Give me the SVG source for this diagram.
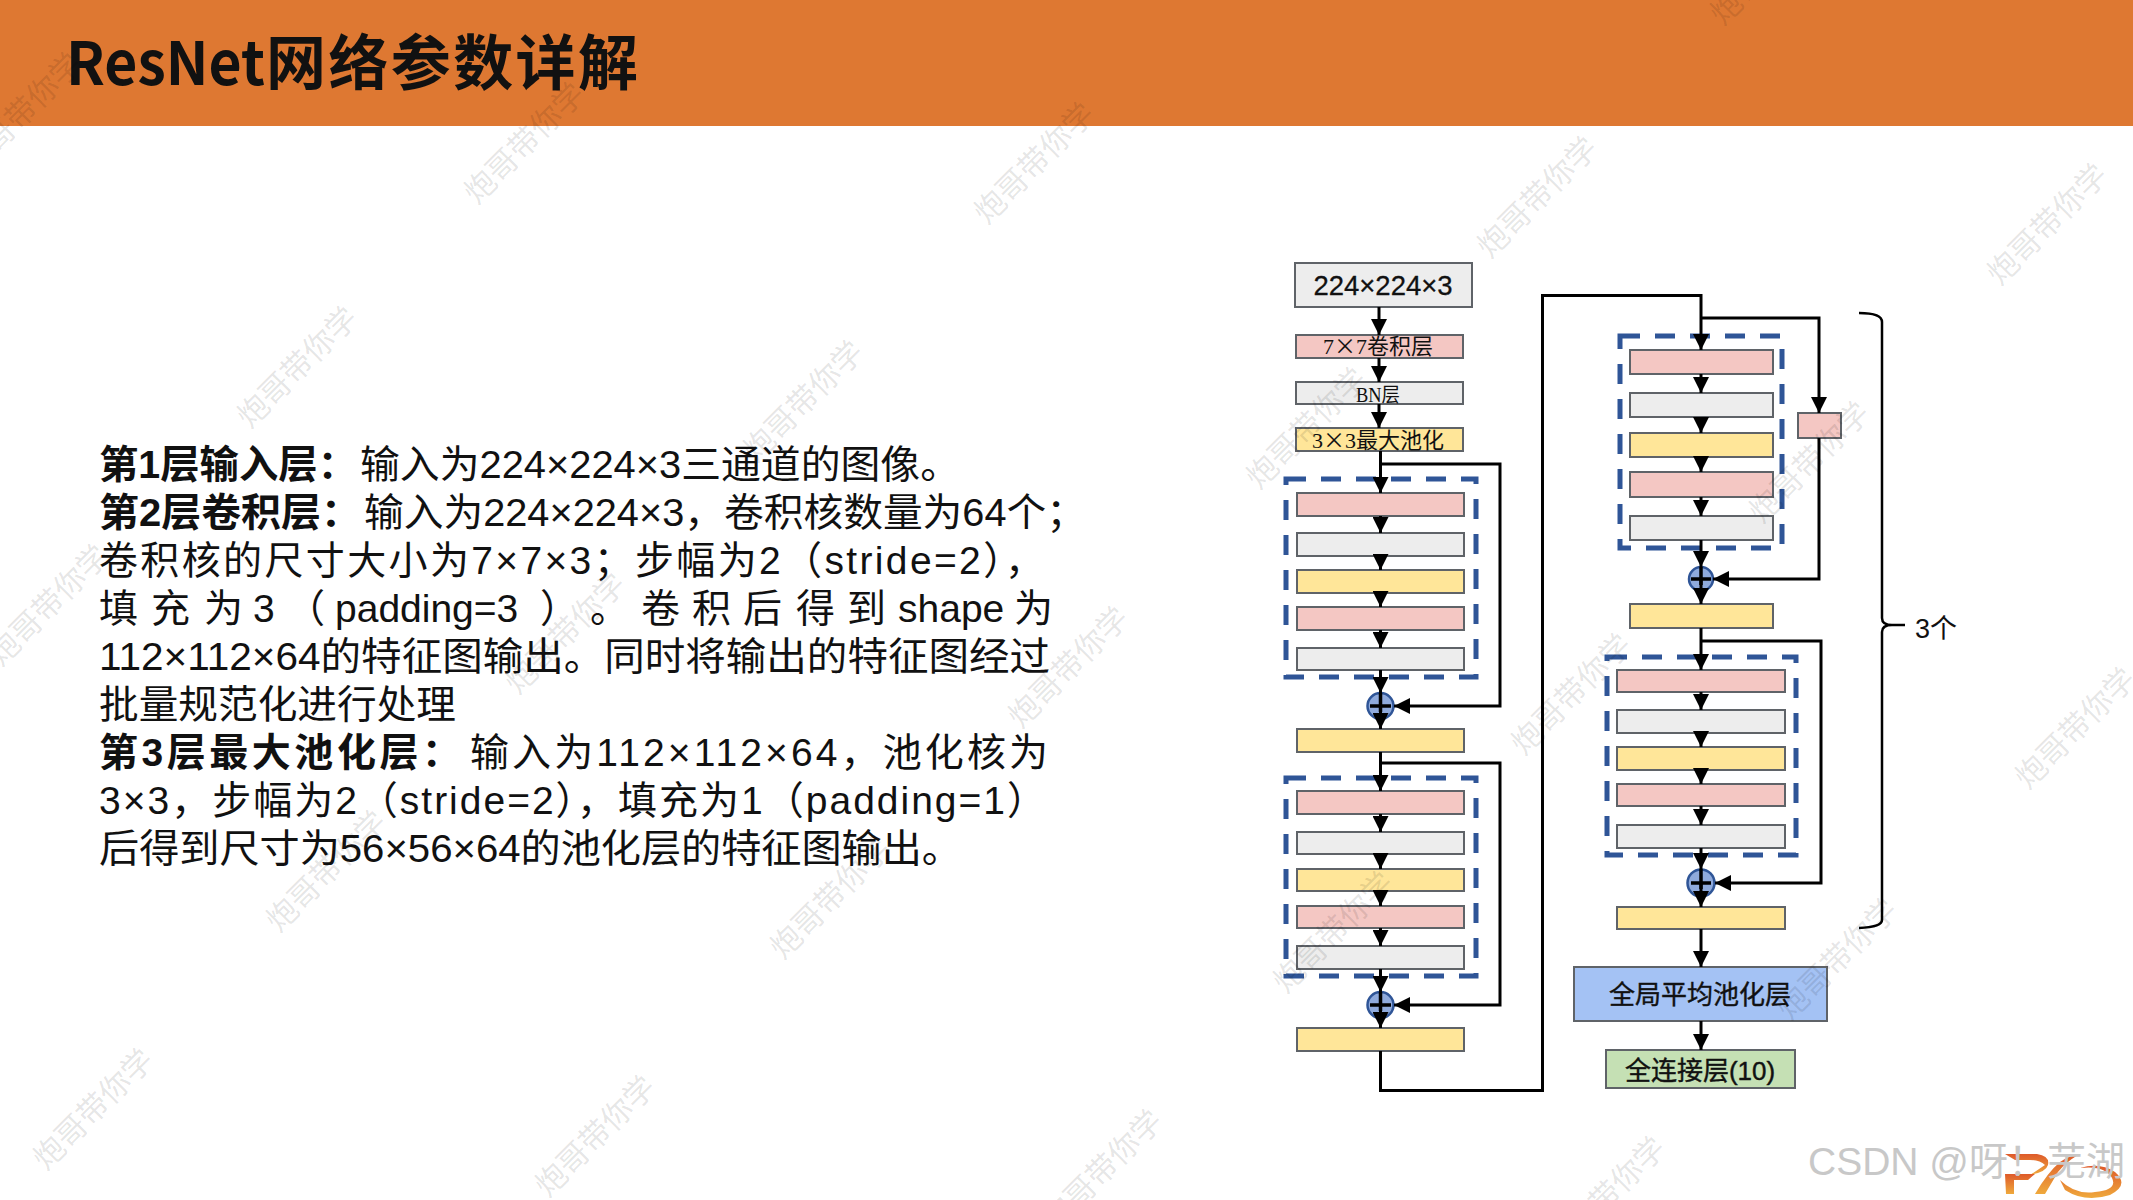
<svg xmlns="http://www.w3.org/2000/svg" width="2133" height="1200" viewBox="0 0 2133 1200">
<style>
text{font-family:"Liberation Sans","Noto Sans CJK SC",sans-serif;fill:#111}
.body{font-size:39px}
.b{font-weight:700}
.cjk{font-family:"Noto Sans CJK SC",sans-serif}
.serif{font-family:"Liberation Serif","Noto Sans CJK SC",serif;font-size:22px;text-anchor:middle}
.big{font-size:26px;text-anchor:middle;stroke:#111;stroke-width:.4}
.wm{font-family:"Noto Sans CJK SC",sans-serif;font-size:31px;fill:#000;fill-opacity:.11;text-anchor:middle}
.pink{fill:#F4C7C3}.gray{fill:#EDEDED}.yellow{fill:#FFE699}
rect.n{stroke:#5f6368;stroke-width:2}
.dash{fill:none;stroke:#2F5597;stroke-width:5;stroke-dasharray:20 15}
.c{fill:none;stroke:#000;stroke-width:3}
.a{marker-end:url(#arrow)}
.sum{fill:#8FAADC;stroke:#2F5597;stroke-width:2.5}
.plus{fill:none;stroke:#000;stroke-width:3.5}
</style>
<defs>
<marker id="arrow" markerUnits="userSpaceOnUse" markerWidth="16" markerHeight="16" refX="16" refY="8" orient="auto"><path d="M0 0L16 8L0 16Z" fill="#000"/></marker>
<linearGradient id="lg1" x1="0" y1="0" x2="0" y2="1"><stop offset="0" stop-color="#DE5A2A"/><stop offset="1" stop-color="#EFA93C"/></linearGradient>
</defs>
<rect width="2133" height="1200" fill="#fff"/>
<rect id="header" width="2133" height="126" fill="#DE7832"/>
<text x="66" y="85" class="b" font-size="60" style="font-family:'Noto Sans CJK SC',sans-serif" textLength="199" lengthAdjust="spacingAndGlyphs">ResNet</text>
<text x="266" y="85" class="b" font-size="60" style="font-family:'Noto Sans CJK SC',sans-serif" textLength="372">网络参数详解</text>

<g id="description" class="body">
<text x="99" y="478" class="b" textLength="258" lengthAdjust="spacingAndGlyphs">第1层输入层：</text>
<text x="360" y="478" textLength="600" lengthAdjust="spacingAndGlyphs">输入为224×224×3三通道的图像。</text>
<text x="99" y="526" class="b" textLength="262" lengthAdjust="spacingAndGlyphs">第2层卷积层：</text>
<text x="364" y="526" textLength="722" lengthAdjust="spacingAndGlyphs">输入为224×224×3，卷积核数量为64个；</text>
<text x="99" y="574" textLength="945" lengthAdjust="spacing">卷积核的尺寸大小为7×7×3；步幅为2（stride=2），</text>
<text y="622"><tspan x="99">填</tspan><tspan x="151">充</tspan><tspan x="204">为</tspan><tspan x="253">3</tspan><tspan x="286">（</tspan><tspan x="335">padding=3</tspan><tspan x="540">）</tspan><tspan x="590">。</tspan><tspan x="641">卷</tspan><tspan x="692">积</tspan><tspan x="743">后</tspan><tspan x="796">得</tspan><tspan x="847">到</tspan><tspan x="898">shape</tspan><tspan x="1014">为</tspan></text>
<text x="99" y="670" textLength="951" lengthAdjust="spacingAndGlyphs">112×112×64的特征图输出。同时将输出的特征图经过</text>
<text x="99" y="718" textLength="357" lengthAdjust="spacingAndGlyphs">批量规范化进行处理</text>
<text x="99" y="766" class="b" textLength="362" lengthAdjust="spacing">第3层最大池化层：</text>
<text x="470" y="766" textLength="578" lengthAdjust="spacing">输入为112×112×64，池化核为</text>
<text x="99" y="814" textLength="947" lengthAdjust="spacing">3×3，步幅为2（stride=2），填充为1（padding=1）</text>
<text x="99" y="862" textLength="863" lengthAdjust="spacingAndGlyphs">后得到尺寸为56×56×64的池化层的特征图输出。</text>
</g>

<g id="stem">
<g id="input"><rect class="n gray" x="1295" y="263" width="177" height="44"/><text x="1383" y="295" font-size="27.5" text-anchor="middle" style="stroke:#111;stroke-width:.3">224×224×3</text></g>
<g id="conv7"><rect class="n pink" x="1296" y="335" width="167" height="23"/><text class="serif" x="1378" y="354">7<tspan class="cjk">×</tspan>7卷积层</text></g>
<g id="bn"><rect class="n gray" x="1296" y="382" width="167" height="22"/><text class="serif" x="1378" y="402" style="font-size:20px" textLength="44" lengthAdjust="spacingAndGlyphs">BN层</text></g>
<g id="pool"><rect class="n yellow" x="1296" y="428" width="167" height="23"/><text class="serif" x="1378" y="448">3<tspan class="cjk">×</tspan>3最大池化</text></g>
</g>

<g id="block1">
<rect class="dash" x="1286" y="479" width="190" height="198"/>
<rect class="n pink" x="1297" y="493" width="167" height="23"/>
<rect class="n gray" x="1297" y="533" width="167" height="23"/>
<rect class="n yellow" x="1297" y="570" width="167" height="23"/>
<rect class="n pink" x="1297" y="607" width="167" height="23"/>
<rect class="n gray" x="1297" y="648" width="167" height="22"/>
</g>
<g id="sum1"><circle class="sum" cx="1380.5" cy="706" r="13"/></g>
<g id="pool1"><rect class="n yellow" x="1297" y="729" width="167" height="23"/></g>

<g id="block2">
<rect class="dash" x="1286" y="778" width="190" height="198"/>
<rect class="n pink" x="1297" y="791" width="167" height="23"/>
<rect class="n gray" x="1297" y="832" width="167" height="22"/>
<rect class="n yellow" x="1297" y="869" width="167" height="22"/>
<rect class="n pink" x="1297" y="906" width="167" height="22"/>
<rect class="n gray" x="1297" y="946" width="167" height="23"/>
</g>
<g id="sum2"><circle class="sum" cx="1380.5" cy="1005" r="13"/></g>
<g id="pool2"><rect class="n yellow" x="1297" y="1028" width="167" height="23"/></g>

<g id="block3">
<rect class="dash" x="1620" y="336" width="162" height="212"/>
<rect class="n pink" x="1630" y="350" width="143" height="24"/>
<rect class="n gray" x="1630" y="393" width="143" height="24"/>
<rect class="n yellow" x="1630" y="433" width="143" height="24"/>
<rect class="n pink" x="1630" y="472" width="143" height="25"/>
<rect class="n gray" x="1630" y="516" width="143" height="24"/>
</g>
<g id="shortcut-conv"><rect class="n pink" x="1798" y="413" width="43" height="25"/></g>
<g id="sum3"><circle class="sum" cx="1701" cy="579" r="12"/></g>
<g id="pool3"><rect class="n yellow" x="1630" y="604" width="143" height="24"/></g>

<g id="block4">
<rect class="dash" x="1607" y="657" width="189" height="198"/>
<rect class="n pink" x="1617" y="670" width="168" height="22"/>
<rect class="n gray" x="1617" y="710" width="168" height="23"/>
<rect class="n yellow" x="1617" y="747" width="168" height="23"/>
<rect class="n pink" x="1617" y="784" width="168" height="22"/>
<rect class="n gray" x="1617" y="825" width="168" height="23"/>
</g>
<g id="sum4"><circle class="sum" cx="1701" cy="883" r="13.5"/></g>
<g id="pool4"><rect class="n yellow" x="1617" y="907" width="168" height="22"/></g>
<g id="gap"><rect class="n" fill="#A4C2F4" x="1574" y="967" width="253" height="54"/><text class="big" x="1700" y="1004">全局平均池化层</text></g>
<g id="fc"><rect class="n" fill="#C5E0B4" x="1606" y="1050" width="189" height="38"/><text class="big" x="1700" y="1080">全连接层(10)</text></g>

<g id="connectors">
<path class="c a" d="M1379 307V335"/><path class="c a" d="M1379 358V382"/><path class="c a" d="M1379 404V428"/>
<path class="c a" d="M1380.5 451V493"/>
<path class="c a" d="M1380.5 516V533"/><path class="c a" d="M1380.5 556V570"/><path class="c a" d="M1380.5 593V607"/><path class="c a" d="M1380.5 630V648"/><path class="c a" d="M1380.5 670V693"/>
<path class="c a" d="M1380.5 706V729"/>
<path class="c a" d="M1380.5 464H1500V706H1394"/>
<path class="c a" d="M1380.5 752V791"/>
<path class="c a" d="M1380.5 814V832"/><path class="c a" d="M1380.5 854V869"/><path class="c a" d="M1380.5 891V906"/><path class="c a" d="M1380.5 928V946"/><path class="c a" d="M1380.5 969V992"/>
<path class="c a" d="M1380.5 1005V1028"/>
<path class="c a" d="M1380.5 763H1500V1005H1394"/>
<path class="c a" d="M1380.5 1051V1090.5H1542.5V295.5H1701V350"/>
<path class="c a" d="M1701 318H1819V413"/>
<path class="c a" d="M1819 438V579H1713"/>
<path class="c a" d="M1701 374V393"/><path class="c a" d="M1701 417V433"/><path class="c a" d="M1701 457V472"/><path class="c a" d="M1701 497V516"/><path class="c a" d="M1701 540V567"/>
<path class="c a" d="M1701 579V604"/>
<path class="c a" d="M1701 628V670"/>
<path class="c a" d="M1701 641H1821V883H1715"/>
<path class="c a" d="M1701 692V710"/><path class="c a" d="M1701 733V747"/><path class="c a" d="M1701 770V784"/><path class="c a" d="M1701 806V825"/><path class="c a" d="M1701 848V869"/>
<path class="c a" d="M1701 883V907"/>
<path class="c a" d="M1701 929V967"/><path class="c a" d="M1701 1021V1050"/>
</g>
<g id="plus-signs">
<path class="plus" d="M1370 706H1391M1380.5 693V712"/><path class="plus" d="M1370 1005H1391M1380.5 992V1011"/><path class="plus" d="M1691 579H1711M1701 567V585"/><path class="plus" d="M1691 883H1711M1701 869V889"/>
</g>
<g id="brace">
<path fill="none" stroke="#000" stroke-width="2.5" d="M1859 313Q1882 313 1882 322V618Q1882 625 1892 625H1905M1892 625Q1882 625 1882 632V920Q1882 927 1859 928"/>
<text x="1915" y="638" font-size="27">3个</text>
</g>

<g id="watermarks">
<text class="wm" transform="translate(21 113) rotate(-45)" y="11">炮哥带你学</text>
<text class="wm" transform="translate(524 143) rotate(-45)" y="11">炮哥带你学</text>
<text class="wm" transform="translate(1034 163) rotate(-45)" y="11">炮哥带你学</text>
<text class="wm" transform="translate(1537 197) rotate(-45)" y="11">炮哥带你学</text>
<text class="wm" transform="translate(2047 224) rotate(-45)" y="11">炮哥带你学</text>
<text class="wm" transform="translate(1770 -36) rotate(-45)" y="11">炮哥带你学</text>
<text class="wm" transform="translate(297 367) rotate(-45)" y="11">炮哥带你学</text>
<text class="wm" transform="translate(803 401) rotate(-45)" y="11">炮哥带你学</text>
<text class="wm" transform="translate(1306 428) rotate(-45)" y="11">炮哥带你学</text>
<text class="wm" transform="translate(1809 462) rotate(-45)" y="11">炮哥带你学</text>
<text class="wm" transform="translate(48 605) rotate(-45)" y="11">炮哥带你学</text>
<text class="wm" transform="translate(565 633) rotate(-45)" y="11">炮哥带你学</text>
<text class="wm" transform="translate(1068 667) rotate(-45)" y="11">炮哥带你学</text>
<text class="wm" transform="translate(1571 694) rotate(-45)" y="11">炮哥带你学</text>
<text class="wm" transform="translate(2075 728) rotate(-45)" y="11">炮哥带你学</text>
<text class="wm" transform="translate(326 871) rotate(-45)" y="11">炮哥带你学</text>
<text class="wm" transform="translate(830 898) rotate(-45)" y="11">炮哥带你学</text>
<text class="wm" transform="translate(1333 932) rotate(-45)" y="11">炮哥带你学</text>
<text class="wm" transform="translate(1837 959) rotate(-45)" y="11">炮哥带你学</text>
<text class="wm" transform="translate(93 1109) rotate(-45)" y="11">炮哥带你学</text>
<text class="wm" transform="translate(595 1136) rotate(-45)" y="11">炮哥带你学</text>
<text class="wm" transform="translate(1102 1170) rotate(-45)" y="11">炮哥带你学</text>
<text class="wm" transform="translate(1605 1197) rotate(-45)" y="11">炮哥带你学</text>
</g>

<g id="logo" fill="url(#lg1)">
<path d="M2005 1154H2037Q2050 1156 2048 1165Q2046 1172 2030 1175L2045 1165Q2040 1160 2030 1160H2015Z"/>
<path d="M2005 1174H2035L2028 1180H2014V1194H2006Z"/>
<path d="M2035 1194Q2048 1172 2060 1162Q2068 1156 2078 1155Q2066 1162 2058 1172L2045 1194Z"/>
<path d="M2060 1180Q2075 1195 2095 1192Q2118 1190 2112 1178Q2105 1165 2080 1168Q2100 1162 2115 1172Q2130 1185 2110 1195Q2085 1203 2065 1190Z"/>
</g>
<text id="csdn" x="1808" y="1175" font-size="39" style="fill:#c8c8c8">CSDN @呀！芜湖</text>
</svg>
